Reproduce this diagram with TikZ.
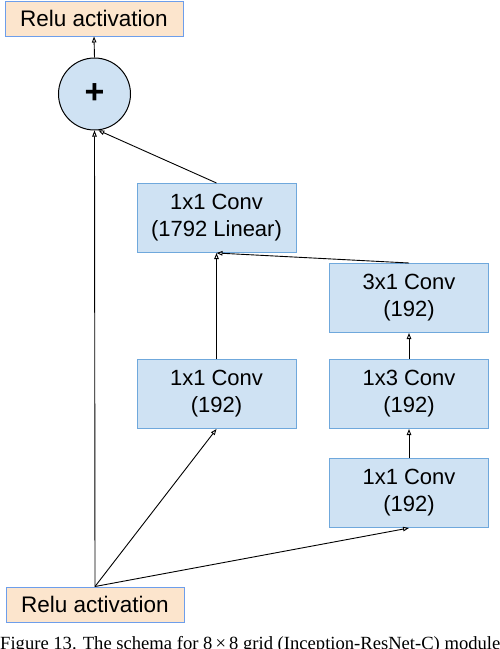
\documentclass[tikz,border=0pt]{standalone}
\usepackage{fontspec}
\setmainfont{Liberation Sans}
\newfontfamily\capfont{Liberation Serif}
\usetikzlibrary{arrows.meta}
\definecolor{convfill}{HTML}{CFE2F3}
\definecolor{convdraw}{HTML}{6FA8DC}
\definecolor{relufill}{HTML}{FCE5CD}
\definecolor{reludraw}{HTML}{6D9EEB}
\begin{document}
\begin{tikzpicture}[x=1pt,y=-1pt,
 conv/.style={draw=convdraw, fill=convfill, line width=1pt, minimum width=159pt, minimum height=69pt, inner sep=0pt, align=center, font=\fontsize{22}{27}\selectfont},
 relu/.style={draw=reludraw, fill=relufill, line width=1pt, minimum width=178pt, minimum height=35pt, inner sep=0pt, font=\fontsize{22.5}{25}\selectfont},
 sumnode/.style={circle, draw=black, fill=convfill, line width=1pt, minimum size=72pt, inner sep=0pt, font=\fontsize{34}{34}\selectfont\bfseries},
 conn/.style={draw=black, line width=0.9pt, -{Triangle[open,length=6pt,width=4.5pt]}}]
\useasboundingbox (0,0) rectangle (500,649);
\clip (0,0) rectangle (500,649);
\node[relu] (out) at (94,18.5) {Relu activation};
\node[sumnode] (sum) at (94.5,94) {+};
\node[conv] (lin) at (216.5,218) {1x1 Conv\\(1792 Linear)};
\node[conv] (b3) at (409,298) {3x1 Conv\\(192)};
\node[conv] (c1) at (216.5,394) {1x1 Conv\\(192)};
\node[conv] (b2) at (409,394) {1x3 Conv\\(192)};
\node[conv] (b1) at (409,493) {1x1 Conv\\(192)};
\node[relu] (in) at (95,604.5) {Relu activation};
\node[anchor=base west, inner sep=0pt, font=\capfont\fontsize{18.6}{20}\selectfont] (cap) at (0,649) {Figure 13. The schema for 8\,×\,8 grid (Inception-ResNet-C) module.};
\draw[conn] (in.north) -- (sum.south);
\draw[conn] (in.north) -- (c1.south);
\draw[conn] (in.north) -- (b1.south);
\draw[conn] (c1.north) -- (lin.south);
\draw[conn] (b1.north) -- (b2.south);
\draw[conn] (b2.north) -- (b3.south);
\draw[conn] (b3.north) -- (lin.south);
\draw[conn] (lin.north) -- (sum.-84);
\draw[conn] (sum.north) -- (out.south);
\end{tikzpicture}
\end{document}
